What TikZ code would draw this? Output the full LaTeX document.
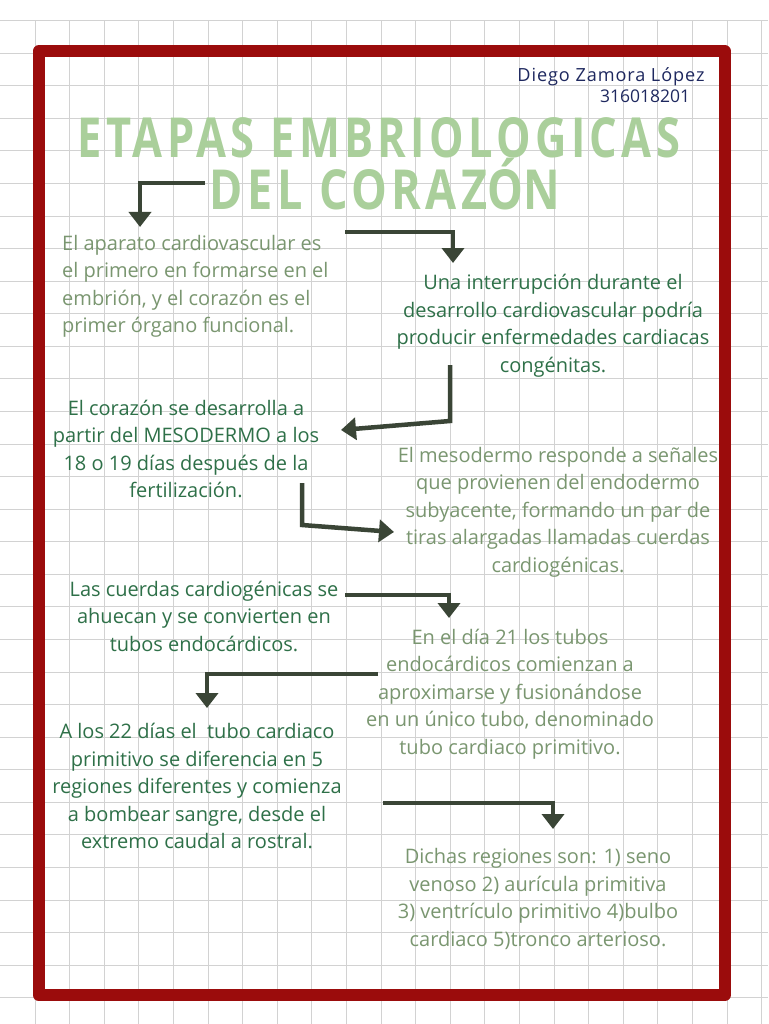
\documentclass[tikz,border=0pt]{standalone}
\usepackage{graphicx}
\usepackage{fontspec}
\setmainfont{Open Sans}
\usetikzlibrary{arrows.meta}
\definecolor{borde}{RGB}{155,12,12}
\definecolor{titulo}{RGB}{170,207,155}
\definecolor{verdeosc}{RGB}{46,112,72}
\definecolor{verdegris}{RGB}{122,150,112}
\definecolor{flecha}{RGB}{58,69,54}
\definecolor{tinta}{RGB}{30,40,95}
\definecolor{cuadro}{RGB}{210,210,210}
\tikzset{
  texto/.style={font=\fontsize{20}{27.5}\selectfont, align=center, inner sep=0pt},
  oscuro/.style={texto, text=verdeosc},
  claro/.style={texto, text=verdegris},
  flechita/.style={draw=flecha, line width=4.5pt,
    -{Triangle[length=15pt,width=22pt]}},
}
\begin{document}
\begin{tikzpicture}[x=1pt,y=-1pt]
\useasboundingbox (0,0) rectangle (768,1024);
\fill[white] (0,0) rectangle (768,1024);

% cuadricula
\foreach \k in {0,...,21}
  \draw[cuadro, line width=1pt] ({35+34.6*\k},20.7) -- ({35+34.6*\k},1024);
\foreach \k in {0,...,30}
  \draw[cuadro, line width=1pt] (0,{20.7+32.57*\k}) -- (768,{20.7+32.57*\k});

% marco
\draw[borde, line width=12pt, line join=round] (38.5,51.5) rectangle (725,995);

\node[text=tinta, inner sep=0pt] (nombre) at (611,77)
  {\resizebox{187pt}{!}{\addfontfeature{LetterSpace=5}Diego Zamora López}};
\node[text=tinta, inner sep=0pt] (cuenta) at (645,96)
  {\resizebox{90pt}{!}{316018201}};

% titulo
\node[text=titulo, inner sep=0pt] (tit1) at (379,138)
  {\resizebox{602pt}{40pt}{\bfseries\addfontfeature{LetterSpace=10}ETAPAS EMBRIOLOGICAS}};
\node[text=titulo, inner sep=0pt] (tit2) at (385,190)
  {\resizebox{350pt}{40pt}{\bfseries\addfontfeature{LetterSpace=10}DEL CORAZ\smash{Ó}N}};

\node[claro, align=left, anchor=west] (aparato) at (62,286.5)
  {El aparato cardiovascular es\\el primero en formarse en el\\embrión, y el corazón es el\\primer órgano funcional.};
\node[oscuro] (interrup) at (553,325.5)
  {Una interrupción durante el\\desarrollo cardiovascular podría\\producir enfermedades cardiacas\\congénitas.};
\node[oscuro] (meso) at (186,449)
  {El corazón se desarrolla a\\partir del MESODERMO a los\\18 o 19 días después de la\\fertilización.};
\node[claro] (senales) at (558,512)
  {El mesodermo responde a señales\\que provienen del endodermo\\subyacente, formando un par de\\tiras alargadas llamadas cuerdas\\cardiogénicas.};
\node[oscuro] (cuerdas) at (204,616)
  {Las cuerdas cardiogénicas se\\ahuecan y se convierten en\\tubos endocárdicos.};
\node[claro] (dia21) at (510,694)
  {En el día 21 los tubos\\endocárdicos comienzan a\\aproximarse y fusionándose\\en un único tubo, denominado\\tubo cardiaco primitivo.};
\node[oscuro] (dia22) at (197,786)
  {A los 22 días el\ \ tubo cardiaco\\primitivo se diferencia en 5\\regiones diferentes y comienza\\a bombear sangre, desde el\\extremo caudal a rostral.};
\node[claro] (regiones) at (538,899)
  {Dichas regiones son: 1) seno\\venoso 2) aurícula primitiva\\3) ventrículo primitivo 4)bulbo\\cardiaco 5)tronco arterioso.};

% flechas
\coordinate (f1a) at (205,183);
\coordinate (f1b) at (140,227);
\coordinate (f2a) at (345,232);
\coordinate (f2b) at (453,263);
\coordinate (f3a) at (450,365);
\coordinate (f3m) at (450,421);
\coordinate (f3b) at (341,430);
\coordinate (f4a) at (302,483);
\coordinate (f4m) at (302,525);
\coordinate (f4b) at (394,532);
\coordinate (f5a) at (345,595);
\coordinate (f5b) at (449,618);
\coordinate (f6a) at (378,674);
\coordinate (f6b) at (207,708);
\coordinate (f7a) at (383,803);
\coordinate (f7b) at (553,829);

\draw[flechita] (f1a) -| (f1b);
\draw[flechita] (f2a) -| (f2b);
\draw[flechita] (f3a) -- (f3m) -- (f3b);
\draw[flechita] (f4a) -- (f4m) -- (f4b);
\draw[flechita] (f5a) -| (f5b);
\draw[flechita] (f6a) -| (f6b);
\draw[flechita] (f7a) -| (f7b);
\end{tikzpicture}
\end{document}
